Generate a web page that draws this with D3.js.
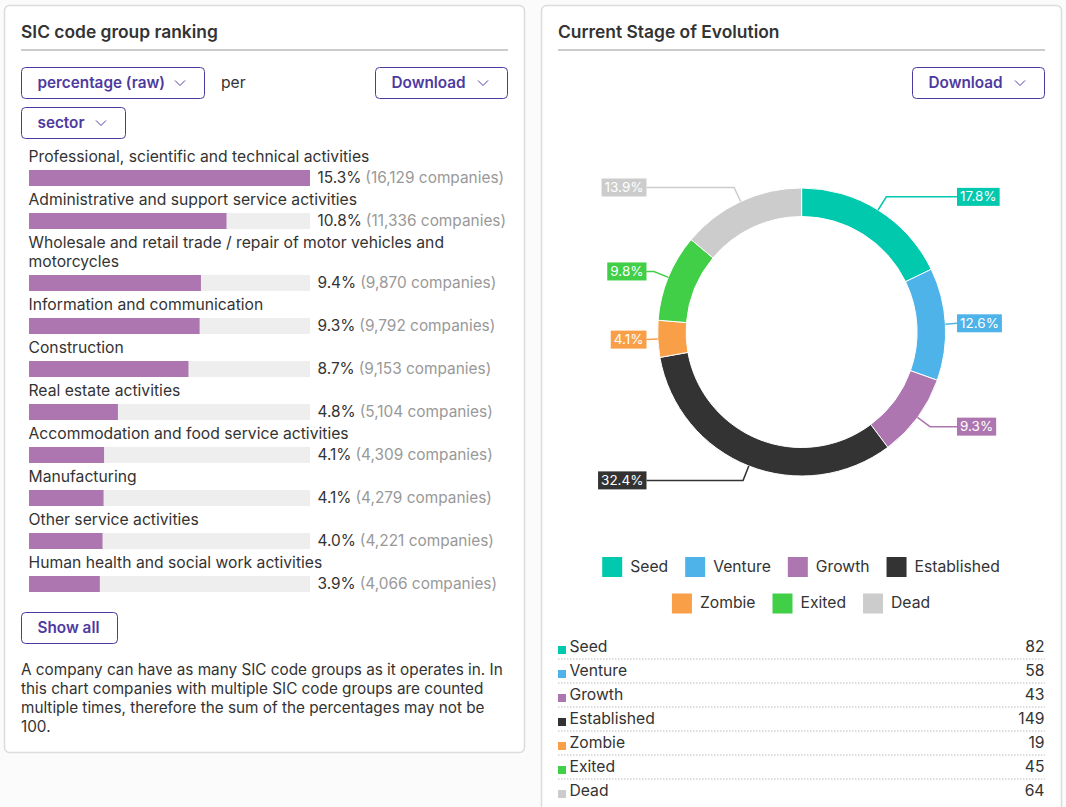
<!DOCTYPE html>
<html><head><meta charset="utf-8">
<script src="https://cdnjs.cloudflare.com/ajax/libs/d3/7.8.5/d3.min.js"></script>
<style>
html,body{margin:0;padding:0;background:#fbfbfb;overflow:hidden}
svg{display:block}
text{font-family:Inter,"Noto Sans",sans-serif;fill:#333;font-size:15.7px}
</style></head><body><div id="c"></div>
<script>
const sectors=[["Professional, scientific and technical activities"],["Administrative and support service activities"],["Wholesale and retail trade / repair of motor vehicles and","motorcycles"],["Information and communication"],["Construction"],["Real estate activities"],["Accommodation and food service activities"],["Manufacturing"],["Other service activities"],["Human health and social work activities"]];
const sectorPct=[15.3,10.8,9.4,9.3,8.7,4.8,4.1,4.1,4.0,3.9];
const sectorCompanies=[16129,11336,9870,9792,9153,5104,4309,4279,4221,4066];
const stages=["Seed","Venture","Growth","Established","Zombie","Exited","Dead"];
const stageCounts=[82,58,43,149,19,45,64];
const stageColors=["#00c9ae","#4db3e9","#ae76b0","#333333","#f89f47","#40cf46","#cccccc"];
const noteLines=["A company can have as many SIC code groups as it operates in. In","this chart companies with multiple SIC code groups are counted","multiple times, therefore the sum of the percentages may not be","100."];
const legendRows=[[0,1,2,3],[4,5,6]];

const W=1066,H=807,purple="#4e3a9f";
const svg=d3.select("#c").append("svg").attr("width",W).attr("height",H);
function card(x,y,w,h){svg.append("rect").attr("x",x).attr("y",y).attr("width",w).attr("height",h).attr("rx",5).attr("fill","#fff").attr("stroke","#dcdcdc").attr("stroke-width",1.5);}
card(4.5,5.5,520,747);card(541.5,5.5,520,860);
function title(x,t,x2){svg.append("text").attr("x",x).attr("y",37.5).style("font-size","17.4px").attr("font-weight",600).text(t);
 svg.append("line").attr("x1",x).attr("x2",x2).attr("y1",50).attr("y2",50).attr("stroke","#ccc").attr("stroke-width",2);}
title(21,"SIC code group ranking",508);title(558,"Current Stage of Evolution",1045);
function button(x,y,w,t,chev){svg.append("rect").attr("x",x+.5).attr("y",y+.5).attr("width",w-1).attr("height",31).attr("rx",4).attr("fill","#fff").attr("stroke",purple);
 svg.append("text").attr("x",x+16.5).attr("y",y+20.7).style("fill",purple).style("font-size","15.3px").attr("font-weight",600).text(t);
 if(chev){const cx=x+w-25,cy=y+16;svg.append("path").attr("d",d3.line()([[cx-5,cy-2.5],[cx,cy+2.5],[cx+5,cy-2.5]])).attr("fill","none").attr("stroke",purple);}}
button(21,67,184,"percentage (raw)",true);button(375,67,133,"Download",true);button(21,107,105,"sector",true);button(912,67,133,"Download",true);button(21,612,97,"Show all",false);
svg.append("text").attr("x",221).attr("y",88).text("per");

// bars
const xBar=d3.scaleLinear().domain([0,d3.max(sectorCompanies)]).range([0,281]);
const fmt=d3.format(","),lineH=19;
let yCur=162;
sectors.forEach((lines,i)=>{
 const g=svg.append("g");
 lines.forEach((l,k)=>g.append("text").attr("x",28.5).attr("y",yCur+k*lineH).text(l));
 const by=yCur+8+(lines.length-1)*lineH;
 g.append("rect").attr("x",29).attr("y",by).attr("width",xBar.range()[1]).attr("height",16).attr("fill","#eee");
 g.append("rect").attr("x",29).attr("y",by).attr("width",xBar(sectorCompanies[i])).attr("height",16).attr("fill","#ae76b0");
 const t=g.append("text").attr("x",317.5).attr("y",by+13).style("font-size","15.4px");
 t.append("tspan").text(sectorPct[i].toFixed(1)+"%");
 t.append("tspan").attr("dx",4).style("fill","#999").text("("+fmt(sectorCompanies[i])+" companies)");
 yCur=by+35;
});
noteLines.forEach((l,i)=>svg.append("text").attr("x",21).attr("y",675+i*19).style("font-size","15.3px").text(l));

// donut
const cx=801.6,cy=332,R=144,r0=115.5,rElbow=159.5,labelR=957,labelL=646.5;
const total=d3.sum(stageCounts);
const arcs=d3.pie().sort(null).value(d=>d)(stageCounts);
const arc=d3.arc().innerRadius(r0).outerRadius(R);
const gD=svg.append("g").attr("transform",`translate(${cx},${cy})`);
gD.selectAll("path.s").data(arcs).join("path").attr("class","s").attr("d",arc).attr("fill",(d,i)=>stageColors[i]).attr("stroke","#fff").attr("stroke-width",1);
arcs.forEach((a,i)=>{
 const m=(a.startAngle+a.endAngle)/2,sx=Math.sin(m),cs=-Math.cos(m),right=sx>0;
 const endX=(right?labelR:labelL)-cx;
 const p0=[R*sx,R*cs],ex=rElbow*sx,ey=rElbow*cs;
 const elbow=[right?Math.min(ex,endX):Math.max(ex,endX),ey];
 gD.append("path").attr("d",d3.line()([p0,elbow,[endX,ey]])).attr("fill","none").attr("stroke",stageColors[i]).attr("stroke-width",1.5);
 const t=gD.append("text").attr("y",ey+4.5).style("fill","#fff").style("font-size","13.5px").text((stageCounts[i]/total*100).toFixed(1)+"%");
 const w=t.node().getComputedTextLength();
 const bx=right?endX:endX-w-6;
 t.attr("x",bx+3);
 gD.insert("rect","text").attr("x",bx).attr("y",ey-9).attr("width",w+6).attr("height",18).attr("fill",stageColors[i]);
});

// legend (flow-centred)
legendRows.forEach((row,ri)=>{
 const y=557+ri*36.5,g=svg.append("g");let x=0;
 row.forEach((s,k)=>{
  g.append("rect").attr("x",x).attr("y",y).attr("width",20).attr("height",20).attr("fill",stageColors[s]);
  const t=g.append("text").attr("x",x+28).attr("y",y+14.7).text(stages[s]);
  x+=28+t.node().getComputedTextLength()+(k<row.length-1?17:0);
 });
 g.attr("transform",`translate(${801-x/2},0)`);
});

// table
stages.forEach((s,i)=>{
 const y=652+i*24;
 svg.append("rect").attr("x",558).attr("y",y-6).attr("width",8).attr("height",8).attr("fill",stageColors[i]);
 svg.append("text").attr("x",569.5).attr("y",y).text(s);
 svg.append("text").attr("x",1044.5).attr("y",y).attr("text-anchor","end").text(stageCounts[i]);
 if(i<stages.length-1)svg.append("line").attr("x1",558).attr("x2",1045).attr("y1",y+7).attr("y2",y+7).attr("stroke","#bbb").attr("stroke-dasharray","1.5 1.5");
});
</script></body></html>
